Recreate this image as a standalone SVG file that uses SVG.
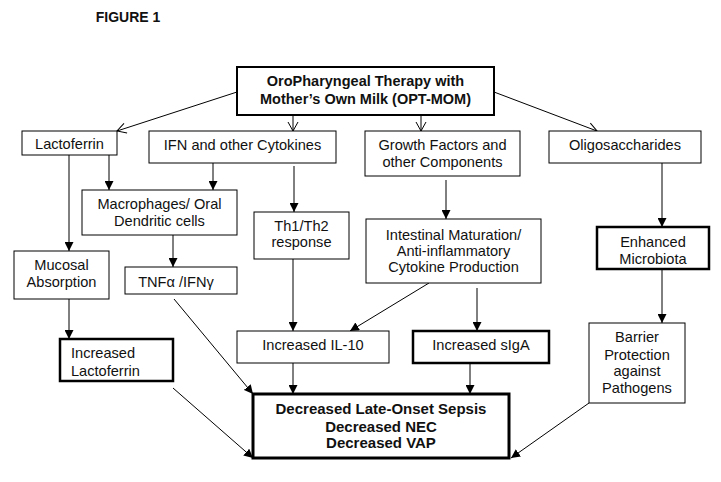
<svg xmlns="http://www.w3.org/2000/svg" width="721" height="482" viewBox="0 0 721 482">
<style>
text{font-family:"Liberation Sans",Arial,sans-serif;font-size:14.6px;fill:#111;text-anchor:middle}
.b{font-weight:bold;font-size:14.5px}
.bf{font-weight:bold;font-size:15px}
.box{fill:#fff;stroke:#000;stroke-width:1}
.thick{fill:#fff;stroke:#000;stroke-width:2.5}
.c{stroke:#000;stroke-width:1;fill:none}
.cf{marker-end:url(#af)}
.co{marker-end:url(#ao)}
</style>
<defs>
<marker id="af" markerUnits="userSpaceOnUse" markerWidth="9" markerHeight="9" refX="9" refY="4.5" orient="auto"><path d="M0,0 L9,4.5 L0,9 z" fill="#000"/></marker>
<marker id="ao" markerUnits="userSpaceOnUse" markerWidth="12" markerHeight="12" refX="10" refY="6" orient="auto"><path d="M1,1 L10,6 L1,11" fill="none" stroke="#000" stroke-width="1"/></marker>
</defs>
<rect width="721" height="482" fill="#fff"/>
<text x="128" y="22" class="b" style="font-size:14px">FIGURE 1</text>
<g id="connectors">
<path class="c co" d="M237,92 L117,131"/>
<path class="c co" d="M293,115 L293,131"/>
<path class="c co" d="M421,115 L421,131"/>
<path class="c co" d="M494,92 L597,131"/>
<path class="c cf" d="M69,155 L69,251"/>
<path class="c cf" d="M109,155 L109,190"/>
<path class="c cf" d="M213,163 L213,190"/>
<path class="c cf" d="M294,166 L294,212"/>
<path class="c cf" d="M446,180 L446,219"/>
<path class="c cf" d="M662,163 L662,227"/>
<path class="c cf" d="M173,235 L173,267"/>
<path class="c cf" d="M69,299 L69,339"/>
<path class="c cf" d="M293,259 L293,331"/>
<path class="c cf" d="M429,283 L350,331"/>
<path class="c cf" d="M477,288 L477,331"/>
<path class="c cf" d="M662,269 L662,323"/>
<path class="c cf" d="M174,299 L253,394"/>
<path class="c cf" d="M173,388 L253,458"/>
<path class="c cf" d="M293,363 L293,394"/>
<path class="c cf" d="M470,363 L470,394"/>
<path class="c cf" d="M589,403 L511,458"/>
</g>
<g id="opt-mom"><rect class="thick" x="237" y="67" width="257" height="48" style="stroke-width:2"/><text class="b" x="365.5" y="86">OroPharyngeal Therapy with</text><text class="b" x="365.5" y="104">Mother’s Own Milk (OPT-MOM)</text></g>
<g id="lactoferrin"><rect class="box" x="22" y="131" width="95" height="24"/><text x="69.5" y="149">Lactoferrin</text></g>
<g id="ifn"><rect class="box" x="149" y="131" width="187" height="32"/><text x="242.5" y="150">IFN  and other Cytokines</text></g>
<g id="growth"><rect class="box" x="365" y="131" width="155" height="45"/><text x="442.5" y="150">Growth Factors and</text><text x="442.5" y="167">other Components</text></g>
<g id="oligo"><rect class="box" x="549" y="131" width="152" height="32"/><text x="625" y="150">Oligosaccharides</text></g>
<g id="macrophages"><rect class="box" x="82" y="190" width="155" height="45"/><text x="159.5" y="209">Macrophages/ Oral</text><text x="159.5" y="226">Dendritic cells</text></g>
<g id="th1th2"><rect class="box" x="254" y="212" width="95" height="47"/><text x="301.5" y="231">Th1/Th2</text><text x="301.5" y="247">response</text></g>
<g id="mucosal"><rect class="box" x="14" y="251" width="95" height="48"/><text x="61.5" y="270">Mucosal</text><text x="61.5" y="287">Absorption</text></g>
<g id="tnf"><rect class="box" x="125" y="267" width="112" height="27"/><text x="176" y="287">TNFα /IFNγ</text></g>
<g id="intestinal"><rect class="box" x="366" y="219" width="175" height="64"/><text x="453.5" y="240">Intestinal Maturation/</text><text x="453.5" y="256">Anti-inflammatory</text><text x="453.5" y="272">Cytokine Production</text></g>
<g id="microbiota"><rect class="thick" x="597" y="227" width="112" height="42"/><text x="653" y="247">Enhanced</text><text x="653" y="264">Microbiota</text></g>
<g id="barrier"><rect class="box" x="589" y="323" width="96" height="80"/><text x="637" y="342">Barrier</text><text x="637" y="360">Protection</text><text x="637" y="376">against</text><text x="637" y="393">Pathogens</text></g>
<g id="il10"><rect class="box" x="237" y="331" width="152" height="32"/><text x="313" y="350">Increased IL-10</text></g>
<g id="siga"><rect class="thick" x="413" y="331" width="136" height="32"/><text x="481" y="350">Increased sIgA</text></g>
<g id="inc-lactoferrin"><rect class="thick" x="60" y="339" width="113" height="42"/><text x="71" y="358" style="text-anchor:start">Increased</text><text x="71" y="376" style="text-anchor:start">Lactoferrin</text></g>
<g id="outcome"><rect class="thick" x="253" y="394" width="256" height="64" style="stroke-width:3"/><text class="bf" x="381" y="414">Decreased Late-Onset Sepsis</text><text class="bf" x="381" y="432">Decreased NEC</text><text class="bf" x="381" y="448">Decreased VAP</text></g>
</svg>
